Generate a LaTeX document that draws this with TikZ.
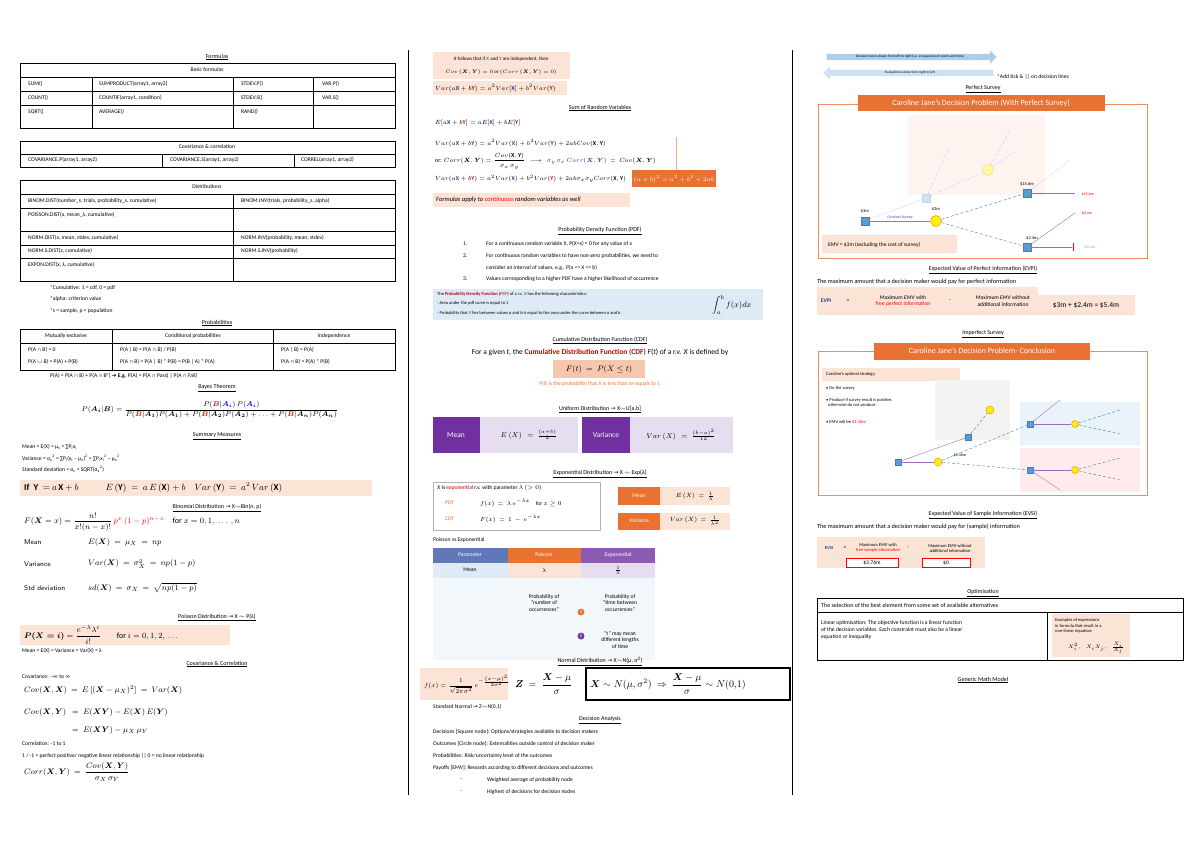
\documentclass[tikz,border=0pt]{standalone}
\usepackage{fontspec}
\setmainfont{Carlito}
\usepackage{amsmath,amssymb}
\usetikzlibrary{arrows.meta,shapes.arrows}
\definecolor{peach}{HTML}{FBE3D6}
\definecolor{orng}{HTML}{E97132}
\definecolor{lblue}{HTML}{DEEBF7}
\definecolor{dpurp}{HTML}{7030A0}
\definecolor{lpurp}{HTML}{E6DDF0}
\definecolor{mblue}{HTML}{5B9BD5}
\definecolor{dred}{HTML}{C00000}
\definecolor{nav}{HTML}{1F3D99}
\begin{document}
\begin{tikzpicture}[x=1pt,y=-1pt,
  tx/.style={anchor=west,inner sep=0pt,font=\fontsize{5.6}{6.6}\selectfont},
  tc/.style={inner sep=0pt,font=\fontsize{5.6}{6.6}\selectfont},
  ttl/.style={inner sep=0pt,font=\fontsize{6}{7}\selectfont},
  mth/.style={anchor=west,inner sep=0pt,font=\fontsize{8}{9}\selectfont},
  grid/.style={line width=0.7pt},
  dn/.style={draw=mblue!80!black,fill=mblue,minimum size=8pt,inner sep=0pt},
  cn/.style={circle,draw=orange,fill=yellow,minimum size=11pt,inner sep=0pt},
  br/.style={draw=mblue!80!black,densely dashed,thin},
  bp/.style={draw=dpurp!70,thin}]
\useasboundingbox (0,0) rectangle (1200,849);
\fill[white] (0,0) rectangle (1200,849);
% column separators
\draw[line width=1pt] (408,50) -- (408,795);
\draw[line width=1pt] (792,50) -- (792,795);

% ===== LEFT COLUMN =====
\node[ttl] (f0) at (217,57) {\underline{Formulas}};
\draw[grid] (20,63) rectangle (395,128);
\foreach \yy in {77,91,105} \draw[grid] (20,\yy) -- (395,\yy);
\foreach \xx in {92,233,313} \draw[grid] (\xx,77) -- (\xx,128);
\node[tc] (b0) at (207,70) {Basic formulas};
\node[tx] at (28,84) {SUM()}; \node[tx] at (99,84) {SUMPRODUCT(array1, array2)}; \node[tx] at (241,84) {STDEV.P()}; \node[tx] at (322,84) {VAR.P()};
\node[tx] at (28,98) {COUNT()}; \node[tx] at (99,98) {COUNTIF(array1, condition)}; \node[tx] at (241,98) {STDEV.S()}; \node[tx] at (322,98) {VAR.S()};
\node[tx] at (28,112) {SQRT()}; \node[tx] at (99,112) {AVERAGE()}; \node[tx] at (241,112) {RAND()};

\draw[grid] (20,141) rectangle (395,167); \draw[grid] (20,154) -- (395,154);
\foreach \xx in {162,294} \draw[grid] (\xx,154) -- (\xx,167);
\node[tc] at (207,147) {Covariance \& correlation};
\node[tx] at (28,160) {COVARIANCE.P(array1, array2)}; \node[tx] at (170,160) {COVARIANCE.S(array1, array2)}; \node[tx] at (301,160) {CORREL(array1, array2)};

\draw[grid] (20,180) rectangle (395,281);
\foreach \yy in {194,208,231,245,258} \draw[grid] (20,\yy) -- (395,\yy);
\draw[grid] (233,194) -- (233,281);
\node[tc] at (207,187) {Distributions};
\node[tx] at (28,201) {BINOM.DIST(number\_s, trials, probability\_s, cumulative)}; \node[tx] at (241,201) {BINOM.INV(trials, probability\_s, alpha)};
\node[tx] at (28,215) {POISSON.DIST(x, mean\_λ, cumulative)};
\node[tx] at (28,238) {NORM.DIST(x, mean, stdev, cumulative)}; \node[tx] at (241,238) {NORM.INV(probability, mean, stdev)};
\node[tx] at (28,251) {NORM.S.DIST(z, cumulative)}; \node[tx] at (241,251) {NORM.S.INV(probability)};
\node[tx] at (28,265) {EXPON.DIST(x, λ, cumulative)};
\node[tx] at (50,288) {*Cumulative: 1 = cdf, 0 = pdf};
\node[tx] at (50,299) {*alpha: criterion value};
\node[tx] at (50,311) {*s = sample, p = population};

\node[ttl] at (217,323) {\underline{Probabilities}};
\draw[grid] (20,329) rectangle (395,370); \draw[grid] (20,343) -- (395,343);
\foreach \xx in {112,273} \draw[grid] (\xx,329) -- (\xx,370);
\node[tc] at (66,336) {Mutually exclusive}; \node[tc] at (193,336) {Conditional probabilities}; \node[tc] at (334,336) {Independence};
\node[tx] at (28,350) {P(A ∩ B) = 0}; \node[tx] at (28,362) {P(A $\cup$ B) = P(A) + P(B)};
\node[tx] at (120,350) {P(A | B) = P(A ∩ B) / P(B)}; \node[tx] at (120,362) {P(A ∩ B) = P(A | B) * P(B) = P(B | A) * P(A)};
\node[tx] at (281,350) {P(A | B) = P(A)}; \node[tx] at (281,362) {P(A ∩ B) = P(A) * P(B)};
\node[tx] at (50,376) {P(A) = P(A ∩ B) + P(A ∩ B\textsuperscript{c}) {\fontspec{DejaVu Sans}➔} \textbf{E.g.} P(A) = P(A ∩ Pass) | P(A ∩ Fail)};
\node[ttl] at (217,388) {\underline{Bayes Theorem}};
\node[inner sep=0pt,font=\fontsize{7.5}{9}\selectfont] at (210,410) {$P(\boldsymbol{A_i}|\boldsymbol{B})=\dfrac{P(\textcolor{red}{\boldsymbol{B}}|\textcolor{blue}{\boldsymbol{A_i}})\,P(\textcolor{blue}{\boldsymbol{A_i}})}{P(\textcolor{red}{\boldsymbol{B}}|\boldsymbol{A_1})P(\boldsymbol{A_1})+P(\textcolor{red}{\boldsymbol{B}}|\boldsymbol{A_2})P(\boldsymbol{A_2})+\ldots+P(\textcolor{red}{\boldsymbol{B}}|\boldsymbol{A_n})P(\boldsymbol{A_n})}$};
\node[ttl] at (217,436) {\underline{Summary Measures}};
\node[tx] at (22,447) {Mean = E(X) = μ\textsubscript{x} = ∑P\textsubscript{i}x\textsubscript{i}};
\node[tx] at (22,458) {Variance = σ\textsubscript{x}\textsuperscript{2} = ∑P\textsubscript{i}(x\textsubscript{i} − μ\textsubscript{x})\textsuperscript{2} = ∑P\textsubscript{i}x\textsubscript{i}\textsuperscript{2} − μ\textsubscript{x}\textsuperscript{2}};
\node[tx] at (22,469) {Standard deviation = σ\textsubscript{x} = SQRT(σ\textsubscript{x}\textsuperscript{2})};
\fill[peach] (20,480) rectangle (372,496);
\node[mth,font=\fontsize{9}{10}\selectfont] at (24,488) {$\mathbf{If\ \ Y\ =\ }a\,\mathbf{X}+b\qquad\quad E\,(\mathbf{Y})\ =\ a\,E\,(\mathbf{X})+b\quad Var\,(\mathbf{Y})\ =\ a^2\,Var\,(\mathbf{X})$};
\node[ttl] at (217,508) {\underline{Binomial Distribution {\fontspec{DejaVu Sans}→} X$\sim$Bin(n, p)}};
\node[mth] at (24,522) {$F(\boldsymbol{X}=x)=\dfrac{n!}{x!(n-x)!}\,\textcolor{red}{p^x}\,\textcolor{red}{(1-p)^{n-x}}\quad\text{for } x=0,1,\ \ldots\ ,n$};
\node[mth,font=\fontsize{7}{8}\selectfont] (bm) at (24,542) {\textsf{Mean}}; \node[mth] at (88,542) {$E(\boldsymbol{X})\ =\ \mu_X\ =\ np$};
\node[mth,font=\fontsize{7}{8}\selectfont] (bv) at (24,564) {\textsf{Variance}}; \node[mth] at (88,564) {$Var(\boldsymbol{X})\ =\ \sigma_X^2\ =\ np(1-p)$};
\node[mth,font=\fontsize{7}{8}\selectfont] (bs) at (24,588) {\textsf{Std deviation}}; \node[mth] at (88,588) {$sd(\boldsymbol{X})\ =\ \sigma_X\ =\ \sqrt{np(1-p)}$};
\node[ttl] at (217,617) {\underline{Poisson Distribution {\fontspec{DejaVu Sans}→} X $\sim$ P(λ)}};
\fill[peach] (20,625) rectangle (230,645);
\node[mth] at (24,635) {$\boldsymbol{P(X=i)}=\dfrac{e^{-\lambda}\lambda^i}{i!}\qquad\text{for } i=0,1,2,\ \ldots$};
\node[tx] at (22,651) {Mean = E(X) = Variance = Var(X) = λ};
\node[ttl] at (217,664) {\underline{Covariance \& Correlation}};
\node[tx] at (22,677) {Covariance: −∞ to ∞};
\node[mth] at (24,690) {$Cov(\boldsymbol{X},\boldsymbol{X})\ =\ E\,[(\boldsymbol{X}-\mu_X)^2]\ =\ Var(\boldsymbol{X})$};
\node[mth] at (24,712) {$Cov(\boldsymbol{X},\boldsymbol{Y})\ \ =\ E(\boldsymbol{XY})-E(\boldsymbol{X})\,E(\boldsymbol{Y})$};
\node[mth] at (24,730) {$\hphantom{Cov(\boldsymbol{X},\boldsymbol{Y})}\ \ =\ E(\boldsymbol{XY})-\mu_X\,\mu_Y$};
\node[tx] at (22,744) {Correlation: -1 to 1};
\node[tx] at (22,756) {1 / -1 = perfect positive/ negative linear relationship || 0 = no linear relationship};
\node[mth] at (24,772) {$Corr(\boldsymbol{X},\boldsymbol{Y})\ =\ \dfrac{Cov(\boldsymbol{X},\boldsymbol{Y})}{\sigma_X\,\sigma_Y}$};

% ===== MIDDLE COLUMN =====
\fill[peach] (433,52) rectangle (570,79);
\node[tc,font=\fontsize{5}{6}\selectfont] at (501,59) {It follows that if \textcolor{nav}{\textit{X}} and \textcolor{dred}{\textit{Y}} are independent, then};
\node[tc,font=\fontsize{5}{6}\selectfont] at (501,72) {$Cov\,(\boldsymbol{X},\boldsymbol{Y})=0$ or $(Corr\,(\boldsymbol{X},\boldsymbol{Y})=0)$};
\fill[peach] (433,81) rectangle (567,95);
\node[mth,font=\fontsize{6.3}{8}\selectfont] at (435,88) {$Var(a\textcolor{nav}{\mathbf{X}}+b\textcolor{dred}{\mathbf{Y}})=a^2Var[\textcolor{nav}{\mathbf{X}}]+b^2Var(\textcolor{dred}{\mathbf{Y}})$};
\node[ttl] at (600,108) {\underline{Sum of Random Variables}};
\node[mth,font=\fontsize{6}{8}\selectfont] at (435,123) {$E[a\textcolor{nav}{\mathbf{X}}+b\textcolor{dred}{\mathbf{Y}}]=aE[\textcolor{nav}{\mathbf{X}}]+bE[\textcolor{dred}{\mathbf{Y}}]$};
\node[mth,font=\fontsize{6}{8}\selectfont] at (435,143) {$Var(a\textcolor{nav}{\mathbf{X}}+b\textcolor{dred}{\mathbf{Y}})=a^2Var(\textcolor{nav}{\mathbf{X}})+b^2Var(\textcolor{dred}{\mathbf{Y}})+2abCov(\mathbf{X},\mathbf{Y})$};
\node[mth,font=\fontsize{6}{8}\selectfont] at (435,161) {or: $Corr(\boldsymbol{X},\boldsymbol{Y})=\dfrac{Cov(\mathbf{X},\mathbf{Y})}{\sigma_x\ \sigma_y}\ \ \longrightarrow\ \ \textcolor{nav}{\sigma_y\,\sigma_x\,Corr(\boldsymbol{X},\boldsymbol{Y})}\ =\ Cov(\boldsymbol{X},\boldsymbol{Y})$};
\node[mth,font=\fontsize{5.8}{8}\selectfont] at (435,179) {$Var(a\textcolor{nav}{\mathbf{X}}+b\textcolor{dred}{\mathbf{Y}})=a^2Var(\textcolor{nav}{\mathbf{X}})+b^2Var(\textcolor{dred}{\mathbf{Y}})+2ab\sigma_x\sigma_yCorr(\mathbf{X},\mathbf{Y})$};
\draw[orng!60] (676,137) -- (676,170);
\fill[orng] (632,170) rectangle (716,187);
\node[tc,text=white] at (674,179) {$(a+b)^2=a^2+b^2+2ab$};
\fill[peach] (433,193) rectangle (630,207);
\node[tx,font=\fontsize{6.5}{7.5}\itshape] at (436,200) {Formulas apply to \textcolor{red}{continuous} random variables as well};
\node[ttl] at (600,231) {\underline{Probability Density Function (PDF)}};
\node[tx] at (463,244) {1.}; \node[tx] at (486,244) {For a continuous random variable X, P(X=x) = 0 for any value of x};
\node[tx] at (463,256) {2.}; \node[tx] at (486,256) {For continuous random variables to have non-zero probabilities, we need to};
\node[tx] at (486,268) {consider an interval of values, e.g., P(a <= X <= b)};
\node[tx] at (463,279) {3.}; \node[tx] at (486,279) {Values corresponding to a higher PDF have a higher likelihood of occurrence};
\fill[lblue] (433,289) rectangle (763,320);
\node[tx,font=\fontsize{4.5}{5.5}\selectfont] at (437,294) {The \textcolor{dred}{\textbf{Probability Density Function}} (\textcolor{dred}{\textit{PDF}}) of a r.v. \textcolor{nav}{\textit{X}} has the following characteristics:};
\node[tx,font=\fontsize{4.5}{5.5}\selectfont] at (437,303) {- Area under the pdf curve is equal to 1};
\node[tx,font=\fontsize{4.5}{5.5}\selectfont] at (437,313) {- Probability that \textcolor{nav}{\textit{X}} lies between values \textit{a} and \textit{b} is equal to the area under the curve between \textit{a} and \textit{b}};
\node[mth] at (712,305) {$\displaystyle\int_a^b f(x)dx$};
\node[ttl] at (600,340) {\underline{Cumulative Distribution Function (CDF)}};
\node[tc,font=\fontsize{7.5}{8.5}\selectfont] at (600,352) {For a given \textit{t}, the \textcolor{dred}{\textbf{Cumulative Distribution Function}} (\textcolor{dred}{\textbf{CDF}}) \textit{F}(\textit{t}) of a r.v. \textcolor{nav}{\textbf{\textit{X}}} is defined by};
\fill[orng!40] (553,360) rectangle (645,378);
\node[tc,font=\fontsize{8}{9}\selectfont] at (599,369) {$F(t)\ =\ P(X\le t)$};
\node[tc,text=orng] at (600,384) {\textit{F}(\textit{t}) is the probability that \textit{X} is less than or equals to \textit{t}.};
\node[ttl] at (600,409) {\underline{Uniform Distribution {\fontspec{DejaVu Sans}→} X$\sim$U[a,b]}};
\fill[dpurp] (433,417) rectangle (480,453); \fill[lpurp] (480,417) rectangle (578,453);
\fill[dpurp] (582,417) rectangle (630,453); \fill[lpurp] (630,417) rectangle (733,453);
\node[tc,text=white,font=\fontsize{7.5}{8.5}\selectfont] at (456,435) {Mean};
\node[tc,font=\fontsize{7}{8}\selectfont] at (529,435) {$E\ (X)\ \ =\ \frac{(a+b)}{2}$};
\node[tc,text=white,font=\fontsize{7.5}{8.5}\selectfont] at (606,435) {Variance};
\node[tc,font=\fontsize{7}{8}\selectfont] at (681,435) {$Var\ (X)\ \ =\ \frac{(b-a)^2}{12}$};
\node[ttl] at (600,474) {\underline{Exponential Distribution {\fontspec{DejaVu Sans}→} X $\sim$ Exp(λ)}};
\draw[gray!60] (433,482) rectangle (600,530);
\node[tx] at (437,488) {\textcolor{nav}{\textbf{\textit{X}}} is \textcolor{dred}{exponential} r.v. with parameter $\lambda\,(>0)$};
\node[tx,text=orng] at (445,503) {PDF}; \node[tx] at (480,503) {$f(x)\ =\ \lambda\,e^{-\lambda x}\quad\text{for } x\ge0$};
\node[tx,text=orng] at (445,519) {CDF}; \node[tx] at (480,519) {$F(x)\ =\ 1\ -\ e^{-\lambda x}$};
\fill[orng] (618,487) rectangle (660,505); \fill[peach] (660,487) rectangle (730,505);
\fill[orng] (618,513) rectangle (660,530); \fill[peach] (660,513) rectangle (730,530);
\node[tc,text=white] at (639,496) {Mean}; \node[tc] at (695,496) {$E\ (X)\ =\ \frac{1}{\lambda}$};
\node[tc,text=white] at (639,521) {Variance}; \node[tc] at (695,521) {$Var\ (X)\ =\ \frac{1}{\lambda^2}$};
\node[tx] at (433,540) {Poisson vs Exponential};
\fill[nav!70] (433,548) rectangle (508,563); \fill[orng] (508,548) rectangle (581,563); \fill[dpurp!80] (581,548) rectangle (655,563);
\fill[lblue] (433,563) rectangle (508,578); \fill[peach] (508,563) rectangle (581,578); \fill[lpurp] (581,563) rectangle (655,578);
\fill[lblue!40] (433,578) rectangle (655,660);
\node[tc,text=white] at (470,555) {Parameter}; \node[tc,text=white] at (544,555) {Poisson}; \node[tc,text=white] at (618,555) {Exponential};
\node[tc] at (470,570) {Mean}; \node[tc] at (544,570) {$\lambda$}; \node[tc] at (618,570) {$\frac{1}{\lambda}$};
\node[tc,align=center] at (544,603) {Probability of\\"number of\\occurrences"};
\node[tc,align=center] at (620,603) {Probability of\\"time between\\occurrences"};
\node[tc,align=center] at (620,640) {"t" may mean\\different lengths\\of time};
\node[circle,fill=orng,text=white,inner sep=1pt,font=\fontsize{5}{6}\selectfont] at (581,612) {1};
\node[circle,fill=dpurp,text=white,inner sep=1pt,font=\fontsize{5}{6}\selectfont] at (581,636) {2};
\node[ttl] at (600,661) {\underline{Normal Distribution {\fontspec{DejaVu Sans}→} X$\sim$N(μ, σ\textsuperscript{2})}};
\fill[peach] (420,668) rectangle (508,700);
\node[mth,font=\fontsize{6}{7}\selectfont] at (424,684) {$f(x)=\dfrac{1}{\sqrt{2\pi\sigma^2}}\,e^{-\frac{(x-\mu)^2}{2\sigma^2}}$};
\node[mth,font=\fontsize{10}{11}\selectfont] at (515,684) {$\boldsymbol{Z}\ =\ \dfrac{\boldsymbol{X}-\mu}{\sigma}$};
\draw[line width=1.2pt] (586,668) rectangle (790,700);
\node[mth,font=\fontsize{10}{11}\selectfont] at (590,684) {$\boldsymbol{X}\sim N(\mu,\sigma^2)\ \Rightarrow\ \dfrac{\boldsymbol{X}-\mu}{\sigma}\sim N(0{,}1)$};
\node[tx] at (433,707) {Standard Normal {\fontspec{DejaVu Sans}→} Z$\sim$N(0,1)};
\node[ttl] at (600,720) {\underline{Decision Analysis}};
\node[tx] at (433,732) {Decisions [Square node]: Options/strategies available to decision makers};
\node[tx] at (433,744) {Outcomes [Circle node]: Externalities outside control of decision maker};
\node[tx] at (433,756) {Probabilities: Risk/uncertainty level of the outcomes};
\node[tx] at (433,768) {Payoffs [EMV]: Rewards according to different decisions and outcomes};
\node[tx] at (460,780) {-}; \node[tx] at (487,780) {Weighted average of probability node};
\node[tx] at (460,792) {-}; \node[tx] at (487,792) {Highest of decisions for decision nodes};

% ===== RIGHT COLUMN =====
\node[single arrow,fill=mblue!50,minimum height=170pt,minimum width=13pt,single arrow head extend=3pt,inner sep=1pt,font=\fontsize{3.5}{4}\selectfont] (ar1) at (910,57) {Decision tree is drawn from left to right (i.e. in sequence of events and time)};
\node[single arrow,shape border rotate=180,fill=mblue!30,minimum height=170pt,minimum width=13pt,single arrow head extend=3pt,inner sep=1pt,font=\fontsize{3.5}{4}\selectfont] (ar2) at (910,73) {Evaluation is done from right to left};
\node[tx] at (997,77) {*Add tick \& || on decision lines};
\node[ttl] at (983,89) {\underline{Perfect Survey}};
\draw[orng!80,thick] (818,104) rectangle (1147,258);
\fill[orng] (858,95) rectangle (1105,111);
\node[tc,text=white,font=\fontsize{8}{9}\selectfont] at (981,103) {Caroline Jane's Decision Problem (With Perfect Survey)};
\fill[orng!8] (908,115) rectangle (1045,195);
\node[dn] (d1) at (865,221) {}; \node[cn] (c1) at (936,221) {};
\node[dn,fill=mblue!30,draw=mblue!40] (d0) at (926,198) {};
\node[cn,fill=yellow!40,draw=orange!40] (c0) at (988,170) {};
\node[dn] (d2) at (1027,193) {}; \node[dn] (d3) at (1027,247) {};
\draw[bp] (d1) -- (c1); \draw[bp,opacity=.3] (d1) -- (d0);
\draw[br,opacity=.3] (d0) -- (c0); \draw[br,opacity=.3] (d0) -- (948,150);
\draw[br,opacity=.3] (c0) -- (1010,130); \draw[br,opacity=.3] (c0) -- (1015,152);
\draw[br] (c1) -- (d2); \draw[br] (c1) -- (d3);
\draw[bp] (d2) -- (1075,193); \draw[bp,opacity=.3] (d2) -- (1070,160);
\draw[bp] (d3) -- (1075,213); \draw[bp] (d3) -- (1072,247);
\draw[red,thick] (1073,247-4) -- (1073,247+4);
\node[tc,font=\fontsize{4.5}{5}\selectfont] at (865,211) {\$3m}; \node[tc,font=\fontsize{4.5}{5}\selectfont] at (936,209) {\$3m};
\node[tc,font=\fontsize{4.5}{5}\selectfont] at (1027,184) {\$15.6m}; \node[tc,font=\fontsize{4.5}{5}\selectfont] at (1032,238) {\$2.4m};
\node[tc,font=\fontsize{4}{5}\selectfont,text=red] at (1088,194) {\$15.6m}; \node[tc,font=\fontsize{4}{5}\selectfont,text=red] at (1087,213) {\$0.4m};
\node[tc,font=\fontsize{4}{5}\selectfont,text=red!50] at (1090,247) {\$2.4m};
\node[tc,font=\fontsize{4}{5}\selectfont,text=dpurp] at (900,217) {Conduct Survey};
\fill[peach] (822,235) rectangle (957,253);
\node[tx,font=\fontsize{5.5}{6}\selectfont] at (828,245) {EMV = \$3m (excluding the cost of survey)};
\node[ttl] at (983,270) {\underline{Expected Value of Perfect Information (EVPI)}};
\node[tx,font=\fontsize{6.2}{7}\selectfont] at (817,282) {The maximum amount that a decision maker would pay for perfect information};
\fill[peach] (817,287) rectangle (1038,315); \fill[peach] (1038,295) rectangle (1135,315);
\node[tc,text=nav,font=\fontsize{5.5}{6}\bfseries] at (826,301) {EVPI}; \node[tc] at (848,301) {=};
\node[tc,align=center] at (903,301) {Maximum EMV with\\\textcolor{red}{free perfect information}};
\node[tc] at (950,301) {-};
\node[tc,align=center] at (1003,301) {Maximum EMV without\\additional information};
\node[tc,font=\fontsize{7.5}{8}\selectfont] at (1086,305) {\$3m + \$2.4m = \$5.4m};
\node[ttl] at (983,334) {\underline{Imperfect Survey}};
\draw[orng!80,thick] (818,351) rectangle (1147,495);
\fill[orng] (874,343) rectangle (1090,360);
\node[tc,text=white,font=\fontsize{8}{9}\selectfont] at (982,351) {Caroline Jane's Decision Problem- Conclusion};
\fill[peach] (822,368) rectangle (960,381);
\node[tx,font=\fontsize{4.5}{5}\selectfont] at (826,374) {Caroline's optimal strategy:};
\node[tx,font=\fontsize{4.5}{5}\selectfont] at (826,388) {• Do the survey};
\node[tx,font=\fontsize{4.5}{5}\selectfont,align=left] at (826,403) {• Produce if survey result is positive,\\\ \ otherwise do not produce};
\node[tx,font=\fontsize{4.5}{5}\selectfont] at (826,422) {• EMV will be \textcolor{red}{\$1.36m}};
\fill[gray!10] (935,380) rectangle (1010,440);
\fill[lblue!60] (1020,402) rectangle (1140,445);
\fill[red!8] (1020,448) rectangle (1140,492);
\node[dn,minimum size=6pt] (e1) at (898,462) {}; \node[cn,minimum size=8pt] (e2) at (938,462) {};
\node[dn,minimum size=6pt] (e3) at (968,437) {}; \node[cn,minimum size=8pt] (e4) at (990,410) {};
\node[dn,minimum size=6pt] (e5) at (1030,424) {}; \node[dn,minimum size=6pt] (e6) at (1030,470) {};
\node[cn,minimum size=7pt] (e7) at (1075,424) {}; \node[cn,minimum size=7pt] (e8) at (1075,470) {};
\draw[bp] (e1) -- (e2); \draw[br] (e2) -- (e5); \draw[br] (e2) -- (e6);
\draw[bp] (e1) -- (e3); \draw[br] (e3) -- (e4);
\draw[bp] (e5) -- (e7); \draw[bp] (e6) -- (e8);
\draw[br] (e7) -- (1120,410); \draw[br] (e7) -- (1120,434);
\draw[br] (e8) -- (1120,458); \draw[br] (e8) -- (1120,480);
\draw[bp] (e5) -- (1060,400); \draw[bp] (e6) -- (1060,490);
\node[tc,font=\fontsize{4}{5}\selectfont] at (960,455) {\$1.36m};
\node[ttl] at (983,515) {\underline{Expected Value of Sample Information (EVSI)}};
\node[tx,font=\fontsize{6.2}{7}\selectfont] at (817,527) {The maximum amount that a decision maker would pay for (sample) information};
\fill[peach] (817,537) rectangle (985,568);
\node[tc,text=nav,font=\fontsize{4.5}{5}\bfseries] at (829,548) {EVSI}; \node[tc] at (845,548) {=};
\node[tc,align=center,font=\fontsize{4.5}{5}\selectfont] at (878,548) {Maximum EMV with\\\textcolor{red}{free sample information}};
\node[tc] at (908,548) {-};
\node[tc,align=center,font=\fontsize{4.5}{5}\selectfont] at (950,548) {Maximum EMV without\\additional information};
\draw[red,fill=white] (846,558) rectangle (898,567); \node[tc] at (872,562.5) {\$3.76m};
\draw[red,fill=white] (922,558) rectangle (970,567); \node[tc] at (946,562.5) {\$0};
\node[ttl] at (983,593) {\underline{Optimisation}};
\draw[grid] (817,598) rectangle (1183,660); \draw[grid] (817,612) -- (1183,612); \draw[grid] (1047,612) -- (1047,660);
\node[tx,font=\fontsize{6}{7}\selectfont] at (821,605) {The selection of the best element from some set of available alternatives};
\node[tx,align=left] at (821,630) {Linear optimisation: The objective function is a linear function\\of the decision variables. Each constraint must also be a linear\\equation or inequality};
\fill[peach] (1052,614) rectangle (1130,657);
\node[tx,align=left,font=\fontsize{4.5}{5.5}\selectfont] at (1055,626) {Examples of expressions\\in formula that result in a\\non-linear equation:};
\node[tx,font=\fontsize{4.5}{5.5}\selectfont] at (1068,648) {$X_i^2,\quad X_iX_j,\quad \frac{X_i}{X_j}$};
\node[ttl] at (983,680) {\underline{Generic Math Model}};
\end{tikzpicture}
\end{document}
